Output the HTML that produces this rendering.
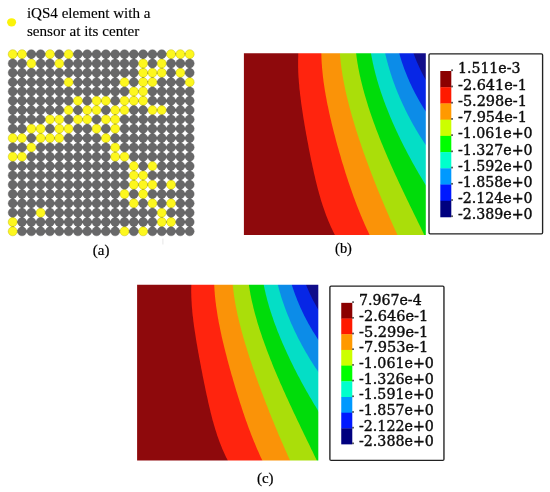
<!DOCTYPE html>
<html><head><meta charset="utf-8"><title>Figure</title>
<style>
html,body{margin:0;padding:0;background:#fff;}
svg{display:block}
.t{font-family:"Liberation Serif","DejaVu Serif",serif;fill:#000;stroke:#000;stroke-width:0.12px}
.lg text{font-family:'DejaVu Serif', 'Liberation Serif', serif;font-size:14.6px;fill:#0c0c0c;stroke:#0c0c0c;stroke-width:0.4px}
</style></head><body>
<svg width="550" height="492" viewBox="0 0 550 492">
<rect width="550" height="492" fill="#fff"/>
<ellipse cx="11.6" cy="22.3" rx="4.5" ry="4.15" fill="#FBF30A"/>
<text class="t" x="26.9" y="18.2" font-size="14.6" textLength="123.6" lengthAdjust="spacingAndGlyphs">iQS4 element with a</text>
<text class="t" x="26.9" y="36.3" font-size="14.6" textLength="112.4" lengthAdjust="spacingAndGlyphs">sensor at its center</text>
<path d="M12.70,54.15 H189.70 M12.70,54.15 V231.35 M12.70,63.48 H189.70 M22.02,54.15 V231.35 M12.70,72.80 H189.70 M31.33,54.15 V231.35 M12.70,82.13 H189.70 M40.65,54.15 V231.35 M12.70,91.46 H189.70 M49.96,54.15 V231.35 M12.70,100.78 H189.70 M59.28,54.15 V231.35 M12.70,110.11 H189.70 M68.59,54.15 V231.35 M12.70,119.43 H189.70 M77.91,54.15 V231.35 M12.70,128.76 H189.70 M87.23,54.15 V231.35 M12.70,138.09 H189.70 M96.54,54.15 V231.35 M12.70,147.41 H189.70 M105.86,54.15 V231.35 M12.70,156.74 H189.70 M115.17,54.15 V231.35 M12.70,166.07 H189.70 M124.49,54.15 V231.35 M12.70,175.39 H189.70 M133.81,54.15 V231.35 M12.70,184.72 H189.70 M143.12,54.15 V231.35 M12.70,194.04 H189.70 M152.44,54.15 V231.35 M12.70,203.37 H189.70 M161.75,54.15 V231.35 M12.70,212.70 H189.70 M171.07,54.15 V231.35 M12.70,222.02 H189.70 M180.38,54.15 V231.35 M12.70,231.35 H189.70 M189.70,54.15 V231.35" stroke="#666667" stroke-width="2.2" fill="none"/>
<g fill="#686869" stroke="#5f5f60" stroke-width="0.4"><circle cx="31.33" cy="54.15" r="4.5"/><circle cx="40.65" cy="54.15" r="4.5"/><circle cx="59.28" cy="54.15" r="4.5"/><circle cx="77.91" cy="54.15" r="4.5"/><circle cx="87.23" cy="54.15" r="4.5"/><circle cx="96.54" cy="54.15" r="4.5"/><circle cx="105.86" cy="54.15" r="4.5"/><circle cx="115.17" cy="54.15" r="4.5"/><circle cx="124.49" cy="54.15" r="4.5"/><circle cx="133.81" cy="54.15" r="4.5"/><circle cx="143.12" cy="54.15" r="4.5"/><circle cx="152.44" cy="54.15" r="4.5"/><circle cx="161.75" cy="54.15" r="4.5"/><circle cx="12.70" cy="63.48" r="4.5"/><circle cx="22.02" cy="63.48" r="4.5"/><circle cx="40.65" cy="63.48" r="4.5"/><circle cx="49.96" cy="63.48" r="4.5"/><circle cx="68.59" cy="63.48" r="4.5"/><circle cx="77.91" cy="63.48" r="4.5"/><circle cx="87.23" cy="63.48" r="4.5"/><circle cx="96.54" cy="63.48" r="4.5"/><circle cx="105.86" cy="63.48" r="4.5"/><circle cx="115.17" cy="63.48" r="4.5"/><circle cx="124.49" cy="63.48" r="4.5"/><circle cx="133.81" cy="63.48" r="4.5"/><circle cx="152.44" cy="63.48" r="4.5"/><circle cx="171.07" cy="63.48" r="4.5"/><circle cx="180.38" cy="63.48" r="4.5"/><circle cx="189.70" cy="63.48" r="4.5"/><circle cx="12.70" cy="72.80" r="4.5"/><circle cx="22.02" cy="72.80" r="4.5"/><circle cx="31.33" cy="72.80" r="4.5"/><circle cx="40.65" cy="72.80" r="4.5"/><circle cx="49.96" cy="72.80" r="4.5"/><circle cx="59.28" cy="72.80" r="4.5"/><circle cx="68.59" cy="72.80" r="4.5"/><circle cx="77.91" cy="72.80" r="4.5"/><circle cx="87.23" cy="72.80" r="4.5"/><circle cx="96.54" cy="72.80" r="4.5"/><circle cx="105.86" cy="72.80" r="4.5"/><circle cx="115.17" cy="72.80" r="4.5"/><circle cx="124.49" cy="72.80" r="4.5"/><circle cx="133.81" cy="72.80" r="4.5"/><circle cx="171.07" cy="72.80" r="4.5"/><circle cx="189.70" cy="72.80" r="4.5"/><circle cx="12.70" cy="82.13" r="4.5"/><circle cx="22.02" cy="82.13" r="4.5"/><circle cx="31.33" cy="82.13" r="4.5"/><circle cx="40.65" cy="82.13" r="4.5"/><circle cx="49.96" cy="82.13" r="4.5"/><circle cx="59.28" cy="82.13" r="4.5"/><circle cx="77.91" cy="82.13" r="4.5"/><circle cx="87.23" cy="82.13" r="4.5"/><circle cx="96.54" cy="82.13" r="4.5"/><circle cx="105.86" cy="82.13" r="4.5"/><circle cx="115.17" cy="82.13" r="4.5"/><circle cx="133.81" cy="82.13" r="4.5"/><circle cx="161.75" cy="82.13" r="4.5"/><circle cx="171.07" cy="82.13" r="4.5"/><circle cx="180.38" cy="82.13" r="4.5"/><circle cx="12.70" cy="91.46" r="4.5"/><circle cx="22.02" cy="91.46" r="4.5"/><circle cx="31.33" cy="91.46" r="4.5"/><circle cx="40.65" cy="91.46" r="4.5"/><circle cx="49.96" cy="91.46" r="4.5"/><circle cx="59.28" cy="91.46" r="4.5"/><circle cx="68.59" cy="91.46" r="4.5"/><circle cx="77.91" cy="91.46" r="4.5"/><circle cx="87.23" cy="91.46" r="4.5"/><circle cx="96.54" cy="91.46" r="4.5"/><circle cx="105.86" cy="91.46" r="4.5"/><circle cx="115.17" cy="91.46" r="4.5"/><circle cx="124.49" cy="91.46" r="4.5"/><circle cx="152.44" cy="91.46" r="4.5"/><circle cx="161.75" cy="91.46" r="4.5"/><circle cx="171.07" cy="91.46" r="4.5"/><circle cx="180.38" cy="91.46" r="4.5"/><circle cx="189.70" cy="91.46" r="4.5"/><circle cx="12.70" cy="100.78" r="4.5"/><circle cx="22.02" cy="100.78" r="4.5"/><circle cx="31.33" cy="100.78" r="4.5"/><circle cx="40.65" cy="100.78" r="4.5"/><circle cx="49.96" cy="100.78" r="4.5"/><circle cx="59.28" cy="100.78" r="4.5"/><circle cx="68.59" cy="100.78" r="4.5"/><circle cx="87.23" cy="100.78" r="4.5"/><circle cx="115.17" cy="100.78" r="4.5"/><circle cx="152.44" cy="100.78" r="4.5"/><circle cx="161.75" cy="100.78" r="4.5"/><circle cx="171.07" cy="100.78" r="4.5"/><circle cx="180.38" cy="100.78" r="4.5"/><circle cx="189.70" cy="100.78" r="4.5"/><circle cx="12.70" cy="110.11" r="4.5"/><circle cx="22.02" cy="110.11" r="4.5"/><circle cx="31.33" cy="110.11" r="4.5"/><circle cx="40.65" cy="110.11" r="4.5"/><circle cx="49.96" cy="110.11" r="4.5"/><circle cx="59.28" cy="110.11" r="4.5"/><circle cx="77.91" cy="110.11" r="4.5"/><circle cx="105.86" cy="110.11" r="4.5"/><circle cx="133.81" cy="110.11" r="4.5"/><circle cx="143.12" cy="110.11" r="4.5"/><circle cx="171.07" cy="110.11" r="4.5"/><circle cx="180.38" cy="110.11" r="4.5"/><circle cx="189.70" cy="110.11" r="4.5"/><circle cx="12.70" cy="119.43" r="4.5"/><circle cx="22.02" cy="119.43" r="4.5"/><circle cx="31.33" cy="119.43" r="4.5"/><circle cx="40.65" cy="119.43" r="4.5"/><circle cx="68.59" cy="119.43" r="4.5"/><circle cx="96.54" cy="119.43" r="4.5"/><circle cx="124.49" cy="119.43" r="4.5"/><circle cx="133.81" cy="119.43" r="4.5"/><circle cx="143.12" cy="119.43" r="4.5"/><circle cx="152.44" cy="119.43" r="4.5"/><circle cx="161.75" cy="119.43" r="4.5"/><circle cx="171.07" cy="119.43" r="4.5"/><circle cx="180.38" cy="119.43" r="4.5"/><circle cx="189.70" cy="119.43" r="4.5"/><circle cx="12.70" cy="128.76" r="4.5"/><circle cx="22.02" cy="128.76" r="4.5"/><circle cx="49.96" cy="128.76" r="4.5"/><circle cx="77.91" cy="128.76" r="4.5"/><circle cx="87.23" cy="128.76" r="4.5"/><circle cx="105.86" cy="128.76" r="4.5"/><circle cx="124.49" cy="128.76" r="4.5"/><circle cx="133.81" cy="128.76" r="4.5"/><circle cx="143.12" cy="128.76" r="4.5"/><circle cx="152.44" cy="128.76" r="4.5"/><circle cx="161.75" cy="128.76" r="4.5"/><circle cx="171.07" cy="128.76" r="4.5"/><circle cx="180.38" cy="128.76" r="4.5"/><circle cx="189.70" cy="128.76" r="4.5"/><circle cx="31.33" cy="138.09" r="4.5"/><circle cx="68.59" cy="138.09" r="4.5"/><circle cx="77.91" cy="138.09" r="4.5"/><circle cx="87.23" cy="138.09" r="4.5"/><circle cx="96.54" cy="138.09" r="4.5"/><circle cx="115.17" cy="138.09" r="4.5"/><circle cx="124.49" cy="138.09" r="4.5"/><circle cx="133.81" cy="138.09" r="4.5"/><circle cx="143.12" cy="138.09" r="4.5"/><circle cx="152.44" cy="138.09" r="4.5"/><circle cx="161.75" cy="138.09" r="4.5"/><circle cx="171.07" cy="138.09" r="4.5"/><circle cx="180.38" cy="138.09" r="4.5"/><circle cx="189.70" cy="138.09" r="4.5"/><circle cx="12.70" cy="147.41" r="4.5"/><circle cx="22.02" cy="147.41" r="4.5"/><circle cx="40.65" cy="147.41" r="4.5"/><circle cx="49.96" cy="147.41" r="4.5"/><circle cx="59.28" cy="147.41" r="4.5"/><circle cx="68.59" cy="147.41" r="4.5"/><circle cx="77.91" cy="147.41" r="4.5"/><circle cx="87.23" cy="147.41" r="4.5"/><circle cx="96.54" cy="147.41" r="4.5"/><circle cx="105.86" cy="147.41" r="4.5"/><circle cx="124.49" cy="147.41" r="4.5"/><circle cx="133.81" cy="147.41" r="4.5"/><circle cx="143.12" cy="147.41" r="4.5"/><circle cx="152.44" cy="147.41" r="4.5"/><circle cx="161.75" cy="147.41" r="4.5"/><circle cx="171.07" cy="147.41" r="4.5"/><circle cx="180.38" cy="147.41" r="4.5"/><circle cx="189.70" cy="147.41" r="4.5"/><circle cx="31.33" cy="156.74" r="4.5"/><circle cx="40.65" cy="156.74" r="4.5"/><circle cx="49.96" cy="156.74" r="4.5"/><circle cx="59.28" cy="156.74" r="4.5"/><circle cx="68.59" cy="156.74" r="4.5"/><circle cx="77.91" cy="156.74" r="4.5"/><circle cx="87.23" cy="156.74" r="4.5"/><circle cx="96.54" cy="156.74" r="4.5"/><circle cx="105.86" cy="156.74" r="4.5"/><circle cx="133.81" cy="156.74" r="4.5"/><circle cx="143.12" cy="156.74" r="4.5"/><circle cx="152.44" cy="156.74" r="4.5"/><circle cx="161.75" cy="156.74" r="4.5"/><circle cx="171.07" cy="156.74" r="4.5"/><circle cx="180.38" cy="156.74" r="4.5"/><circle cx="189.70" cy="156.74" r="4.5"/><circle cx="12.70" cy="166.07" r="4.5"/><circle cx="22.02" cy="166.07" r="4.5"/><circle cx="31.33" cy="166.07" r="4.5"/><circle cx="40.65" cy="166.07" r="4.5"/><circle cx="49.96" cy="166.07" r="4.5"/><circle cx="59.28" cy="166.07" r="4.5"/><circle cx="68.59" cy="166.07" r="4.5"/><circle cx="77.91" cy="166.07" r="4.5"/><circle cx="87.23" cy="166.07" r="4.5"/><circle cx="96.54" cy="166.07" r="4.5"/><circle cx="105.86" cy="166.07" r="4.5"/><circle cx="115.17" cy="166.07" r="4.5"/><circle cx="124.49" cy="166.07" r="4.5"/><circle cx="143.12" cy="166.07" r="4.5"/><circle cx="161.75" cy="166.07" r="4.5"/><circle cx="171.07" cy="166.07" r="4.5"/><circle cx="180.38" cy="166.07" r="4.5"/><circle cx="189.70" cy="166.07" r="4.5"/><circle cx="12.70" cy="175.39" r="4.5"/><circle cx="22.02" cy="175.39" r="4.5"/><circle cx="31.33" cy="175.39" r="4.5"/><circle cx="40.65" cy="175.39" r="4.5"/><circle cx="49.96" cy="175.39" r="4.5"/><circle cx="59.28" cy="175.39" r="4.5"/><circle cx="68.59" cy="175.39" r="4.5"/><circle cx="77.91" cy="175.39" r="4.5"/><circle cx="87.23" cy="175.39" r="4.5"/><circle cx="96.54" cy="175.39" r="4.5"/><circle cx="105.86" cy="175.39" r="4.5"/><circle cx="115.17" cy="175.39" r="4.5"/><circle cx="124.49" cy="175.39" r="4.5"/><circle cx="152.44" cy="175.39" r="4.5"/><circle cx="161.75" cy="175.39" r="4.5"/><circle cx="171.07" cy="175.39" r="4.5"/><circle cx="180.38" cy="175.39" r="4.5"/><circle cx="189.70" cy="175.39" r="4.5"/><circle cx="12.70" cy="184.72" r="4.5"/><circle cx="22.02" cy="184.72" r="4.5"/><circle cx="31.33" cy="184.72" r="4.5"/><circle cx="40.65" cy="184.72" r="4.5"/><circle cx="49.96" cy="184.72" r="4.5"/><circle cx="59.28" cy="184.72" r="4.5"/><circle cx="68.59" cy="184.72" r="4.5"/><circle cx="77.91" cy="184.72" r="4.5"/><circle cx="87.23" cy="184.72" r="4.5"/><circle cx="96.54" cy="184.72" r="4.5"/><circle cx="105.86" cy="184.72" r="4.5"/><circle cx="115.17" cy="184.72" r="4.5"/><circle cx="124.49" cy="184.72" r="4.5"/><circle cx="161.75" cy="184.72" r="4.5"/><circle cx="180.38" cy="184.72" r="4.5"/><circle cx="189.70" cy="184.72" r="4.5"/><circle cx="12.70" cy="194.04" r="4.5"/><circle cx="22.02" cy="194.04" r="4.5"/><circle cx="31.33" cy="194.04" r="4.5"/><circle cx="40.65" cy="194.04" r="4.5"/><circle cx="49.96" cy="194.04" r="4.5"/><circle cx="59.28" cy="194.04" r="4.5"/><circle cx="68.59" cy="194.04" r="4.5"/><circle cx="77.91" cy="194.04" r="4.5"/><circle cx="87.23" cy="194.04" r="4.5"/><circle cx="96.54" cy="194.04" r="4.5"/><circle cx="105.86" cy="194.04" r="4.5"/><circle cx="115.17" cy="194.04" r="4.5"/><circle cx="133.81" cy="194.04" r="4.5"/><circle cx="152.44" cy="194.04" r="4.5"/><circle cx="161.75" cy="194.04" r="4.5"/><circle cx="171.07" cy="194.04" r="4.5"/><circle cx="180.38" cy="194.04" r="4.5"/><circle cx="189.70" cy="194.04" r="4.5"/><circle cx="12.70" cy="203.37" r="4.5"/><circle cx="22.02" cy="203.37" r="4.5"/><circle cx="31.33" cy="203.37" r="4.5"/><circle cx="40.65" cy="203.37" r="4.5"/><circle cx="49.96" cy="203.37" r="4.5"/><circle cx="59.28" cy="203.37" r="4.5"/><circle cx="68.59" cy="203.37" r="4.5"/><circle cx="77.91" cy="203.37" r="4.5"/><circle cx="87.23" cy="203.37" r="4.5"/><circle cx="96.54" cy="203.37" r="4.5"/><circle cx="105.86" cy="203.37" r="4.5"/><circle cx="115.17" cy="203.37" r="4.5"/><circle cx="124.49" cy="203.37" r="4.5"/><circle cx="143.12" cy="203.37" r="4.5"/><circle cx="161.75" cy="203.37" r="4.5"/><circle cx="180.38" cy="203.37" r="4.5"/><circle cx="189.70" cy="203.37" r="4.5"/><circle cx="12.70" cy="212.70" r="4.5"/><circle cx="22.02" cy="212.70" r="4.5"/><circle cx="31.33" cy="212.70" r="4.5"/><circle cx="49.96" cy="212.70" r="4.5"/><circle cx="59.28" cy="212.70" r="4.5"/><circle cx="68.59" cy="212.70" r="4.5"/><circle cx="77.91" cy="212.70" r="4.5"/><circle cx="87.23" cy="212.70" r="4.5"/><circle cx="96.54" cy="212.70" r="4.5"/><circle cx="105.86" cy="212.70" r="4.5"/><circle cx="115.17" cy="212.70" r="4.5"/><circle cx="124.49" cy="212.70" r="4.5"/><circle cx="133.81" cy="212.70" r="4.5"/><circle cx="143.12" cy="212.70" r="4.5"/><circle cx="152.44" cy="212.70" r="4.5"/><circle cx="171.07" cy="212.70" r="4.5"/><circle cx="180.38" cy="212.70" r="4.5"/><circle cx="189.70" cy="212.70" r="4.5"/><circle cx="22.02" cy="222.02" r="4.5"/><circle cx="31.33" cy="222.02" r="4.5"/><circle cx="40.65" cy="222.02" r="4.5"/><circle cx="49.96" cy="222.02" r="4.5"/><circle cx="59.28" cy="222.02" r="4.5"/><circle cx="68.59" cy="222.02" r="4.5"/><circle cx="77.91" cy="222.02" r="4.5"/><circle cx="87.23" cy="222.02" r="4.5"/><circle cx="96.54" cy="222.02" r="4.5"/><circle cx="105.86" cy="222.02" r="4.5"/><circle cx="115.17" cy="222.02" r="4.5"/><circle cx="124.49" cy="222.02" r="4.5"/><circle cx="133.81" cy="222.02" r="4.5"/><circle cx="143.12" cy="222.02" r="4.5"/><circle cx="152.44" cy="222.02" r="4.5"/><circle cx="180.38" cy="222.02" r="4.5"/><circle cx="189.70" cy="222.02" r="4.5"/><circle cx="22.02" cy="231.35" r="4.5"/><circle cx="31.33" cy="231.35" r="4.5"/><circle cx="40.65" cy="231.35" r="4.5"/><circle cx="49.96" cy="231.35" r="4.5"/><circle cx="59.28" cy="231.35" r="4.5"/><circle cx="68.59" cy="231.35" r="4.5"/><circle cx="77.91" cy="231.35" r="4.5"/><circle cx="87.23" cy="231.35" r="4.5"/><circle cx="96.54" cy="231.35" r="4.5"/><circle cx="105.86" cy="231.35" r="4.5"/><circle cx="115.17" cy="231.35" r="4.5"/><circle cx="133.81" cy="231.35" r="4.5"/><circle cx="152.44" cy="231.35" r="4.5"/><circle cx="161.75" cy="231.35" r="4.5"/><circle cx="171.07" cy="231.35" r="4.5"/><circle cx="180.38" cy="231.35" r="4.5"/><circle cx="189.70" cy="231.35" r="4.5"/></g>
<g fill="#FDF71E" stroke="#b9b000" stroke-width="0.4"><circle cx="12.70" cy="54.15" r="4.5"/><circle cx="22.02" cy="54.15" r="4.5"/><circle cx="49.96" cy="54.15" r="4.5"/><circle cx="68.59" cy="54.15" r="4.5"/><circle cx="171.07" cy="54.15" r="4.5"/><circle cx="180.38" cy="54.15" r="4.5"/><circle cx="189.70" cy="54.15" r="4.5"/><circle cx="31.33" cy="63.48" r="4.5"/><circle cx="59.28" cy="63.48" r="4.5"/><circle cx="143.12" cy="63.48" r="4.5"/><circle cx="161.75" cy="63.48" r="4.5"/><circle cx="143.12" cy="72.80" r="4.5"/><circle cx="152.44" cy="72.80" r="4.5"/><circle cx="161.75" cy="72.80" r="4.5"/><circle cx="180.38" cy="72.80" r="4.5"/><circle cx="68.59" cy="82.13" r="4.5"/><circle cx="124.49" cy="82.13" r="4.5"/><circle cx="143.12" cy="82.13" r="4.5"/><circle cx="152.44" cy="82.13" r="4.5"/><circle cx="189.70" cy="82.13" r="4.5"/><circle cx="133.81" cy="91.46" r="4.5"/><circle cx="143.12" cy="91.46" r="4.5"/><circle cx="77.91" cy="100.78" r="4.5"/><circle cx="96.54" cy="100.78" r="4.5"/><circle cx="105.86" cy="100.78" r="4.5"/><circle cx="124.49" cy="100.78" r="4.5"/><circle cx="133.81" cy="100.78" r="4.5"/><circle cx="143.12" cy="100.78" r="4.5"/><circle cx="68.59" cy="110.11" r="4.5"/><circle cx="87.23" cy="110.11" r="4.5"/><circle cx="96.54" cy="110.11" r="4.5"/><circle cx="115.17" cy="110.11" r="4.5"/><circle cx="124.49" cy="110.11" r="4.5"/><circle cx="152.44" cy="110.11" r="4.5"/><circle cx="161.75" cy="110.11" r="4.5"/><circle cx="49.96" cy="119.43" r="4.5"/><circle cx="59.28" cy="119.43" r="4.5"/><circle cx="77.91" cy="119.43" r="4.5"/><circle cx="87.23" cy="119.43" r="4.5"/><circle cx="105.86" cy="119.43" r="4.5"/><circle cx="115.17" cy="119.43" r="4.5"/><circle cx="31.33" cy="128.76" r="4.5"/><circle cx="40.65" cy="128.76" r="4.5"/><circle cx="59.28" cy="128.76" r="4.5"/><circle cx="68.59" cy="128.76" r="4.5"/><circle cx="96.54" cy="128.76" r="4.5"/><circle cx="115.17" cy="128.76" r="4.5"/><circle cx="12.70" cy="138.09" r="4.5"/><circle cx="22.02" cy="138.09" r="4.5"/><circle cx="40.65" cy="138.09" r="4.5"/><circle cx="49.96" cy="138.09" r="4.5"/><circle cx="59.28" cy="138.09" r="4.5"/><circle cx="105.86" cy="138.09" r="4.5"/><circle cx="31.33" cy="147.41" r="4.5"/><circle cx="115.17" cy="147.41" r="4.5"/><circle cx="12.70" cy="156.74" r="4.5"/><circle cx="22.02" cy="156.74" r="4.5"/><circle cx="115.17" cy="156.74" r="4.5"/><circle cx="124.49" cy="156.74" r="4.5"/><circle cx="133.81" cy="166.07" r="4.5"/><circle cx="152.44" cy="166.07" r="4.5"/><circle cx="133.81" cy="175.39" r="4.5"/><circle cx="143.12" cy="175.39" r="4.5"/><circle cx="133.81" cy="184.72" r="4.5"/><circle cx="143.12" cy="184.72" r="4.5"/><circle cx="152.44" cy="184.72" r="4.5"/><circle cx="171.07" cy="184.72" r="4.5"/><circle cx="124.49" cy="194.04" r="4.5"/><circle cx="143.12" cy="194.04" r="4.5"/><circle cx="133.81" cy="203.37" r="4.5"/><circle cx="152.44" cy="203.37" r="4.5"/><circle cx="171.07" cy="203.37" r="4.5"/><circle cx="40.65" cy="212.70" r="4.5"/><circle cx="161.75" cy="212.70" r="4.5"/><circle cx="12.70" cy="222.02" r="4.5"/><circle cx="161.75" cy="222.02" r="4.5"/><circle cx="171.07" cy="222.02" r="4.5"/><circle cx="12.70" cy="231.35" r="4.5"/><circle cx="124.49" cy="231.35" r="4.5"/><circle cx="143.12" cy="231.35" r="4.5"/></g>
<rect x="162.4" y="238.5" width="1" height="6" fill="#e6e6e6"/>
<text class="t" x="101.1" y="254.9" font-size="13.8" text-anchor="middle" textLength="16.6" lengthAdjust="spacingAndGlyphs" style="stroke-width:0.2px">(a)</text>
<text class="t" x="343.5" y="253.3" font-size="13.8" text-anchor="middle" textLength="16.8" lengthAdjust="spacingAndGlyphs" style="stroke-width:0.2px">(b)</text>
<text class="t" x="265.3" y="482.8" font-size="13.8" text-anchor="middle" textLength="16.6" lengthAdjust="spacingAndGlyphs" style="stroke-width:0.2px">(c)</text>
<g transform="translate(243.9,53.3)">
<g>
<rect x="-2.0" y="-2.0" width="185.9" height="185.6" fill="#110D8A"/>
<path d="M-2.0,-2.0 L169.6,-2.0 L169.6,0.0 L170.4,2.0 L171.1,4.0 L171.9,6.0 L172.7,8.0 L173.6,10.0 L174.5,12.0 L175.4,14.0 L176.3,16.0 L177.3,18.0 L178.3,20.0 L179.3,22.0 L180.4,24.0 L181.6,26.0 L182.7,28.0 L183.9,30.0 L183.9,32.0 L183.9,34.0 L183.9,36.0 L183.9,38.0 L183.9,40.0 L183.9,42.0 L183.9,44.0 L183.9,46.0 L183.9,48.0 L183.9,50.0 L183.9,52.0 L183.9,54.0 L183.9,56.0 L183.9,58.0 L183.9,60.0 L183.9,62.0 L183.9,64.0 L183.9,66.0 L183.9,68.0 L183.9,70.0 L183.9,72.0 L183.9,74.0 L183.9,76.0 L183.9,78.0 L183.9,80.0 L183.9,82.0 L183.9,84.0 L183.9,86.0 L183.9,88.0 L183.9,90.0 L183.9,92.0 L183.9,94.0 L183.9,96.0 L183.9,98.0 L183.9,100.0 L183.9,102.0 L183.9,104.0 L183.9,106.0 L183.9,108.0 L183.9,110.0 L183.9,112.0 L183.9,114.0 L183.9,116.0 L183.9,118.0 L183.9,120.0 L183.9,122.0 L183.9,124.0 L183.9,126.0 L183.9,128.0 L183.9,130.0 L183.9,132.0 L183.9,134.0 L183.9,136.0 L183.9,138.0 L183.9,140.0 L183.9,142.0 L183.9,144.0 L183.9,146.0 L183.9,148.0 L183.9,150.0 L183.9,152.0 L183.9,154.0 L183.9,156.0 L183.9,158.0 L183.9,160.0 L183.9,162.0 L183.9,164.0 L183.9,166.0 L183.9,168.0 L183.9,170.0 L183.9,172.0 L183.9,174.0 L183.9,176.0 L183.9,178.0 L183.9,180.0 L183.9,181.6 L183.9,183.6 L-2.0,183.6 Z" fill="#0726E6"/>
<path d="M-2.0,-2.0 L155.3,-2.0 L155.3,0.0 L155.9,2.0 L156.5,4.0 L157.1,6.0 L157.7,8.0 L158.4,10.0 L159.1,12.0 L159.8,14.0 L160.5,16.0 L161.3,18.0 L162.1,20.0 L162.9,22.0 L163.7,24.0 L164.6,26.0 L165.4,28.0 L166.3,30.0 L167.3,32.0 L168.2,34.0 L169.2,36.0 L170.2,38.0 L171.2,40.0 L172.3,42.0 L173.4,44.0 L174.5,46.0 L175.6,48.0 L176.8,50.0 L178.0,52.0 L179.2,54.0 L180.5,56.0 L181.8,58.0 L183.2,60.0 L183.9,62.0 L183.9,64.0 L183.9,66.0 L183.9,68.0 L183.9,70.0 L183.9,72.0 L183.9,74.0 L183.9,76.0 L183.9,78.0 L183.9,80.0 L183.9,82.0 L183.9,84.0 L183.9,86.0 L183.9,88.0 L183.9,90.0 L183.9,92.0 L183.9,94.0 L183.9,96.0 L183.9,98.0 L183.9,100.0 L183.9,102.0 L183.9,104.0 L183.9,106.0 L183.9,108.0 L183.9,110.0 L183.9,112.0 L183.9,114.0 L183.9,116.0 L183.9,118.0 L183.9,120.0 L183.9,122.0 L183.9,124.0 L183.9,126.0 L183.9,128.0 L183.9,130.0 L183.9,132.0 L183.9,134.0 L183.9,136.0 L183.9,138.0 L183.9,140.0 L183.9,142.0 L183.9,144.0 L183.9,146.0 L183.9,148.0 L183.9,150.0 L183.9,152.0 L183.9,154.0 L183.9,156.0 L183.9,158.0 L183.9,160.0 L183.9,162.0 L183.9,164.0 L183.9,166.0 L183.9,168.0 L183.9,170.0 L183.9,172.0 L183.9,174.0 L183.9,176.0 L183.9,178.0 L183.9,180.0 L183.9,181.6 L183.9,183.6 L-2.0,183.6 Z" fill="#0C8CE8"/>
<path d="M-2.0,-2.0 L141.3,-2.0 L141.3,0.0 L141.7,2.0 L142.2,4.0 L142.7,6.0 L143.2,8.0 L143.8,10.0 L144.3,12.0 L144.9,14.0 L145.5,16.0 L146.1,18.0 L146.7,20.0 L147.4,22.0 L148.0,24.0 L148.7,26.0 L149.4,28.0 L150.1,30.0 L150.9,32.0 L151.6,34.0 L152.4,36.0 L153.2,38.0 L154.0,40.0 L154.9,42.0 L155.7,44.0 L156.6,46.0 L157.5,48.0 L158.4,50.0 L159.3,52.0 L160.3,54.0 L161.2,56.0 L162.2,58.0 L163.2,60.0 L164.2,62.0 L165.3,64.0 L166.3,66.0 L167.4,68.0 L168.5,70.0 L169.6,72.0 L170.8,74.0 L171.9,76.0 L173.1,78.0 L174.3,80.0 L175.5,82.0 L176.8,84.0 L178.1,86.0 L179.4,88.0 L180.7,90.0 L182.1,92.0 L183.5,94.0 L183.9,96.0 L183.9,98.0 L183.9,100.0 L183.9,102.0 L183.9,104.0 L183.9,106.0 L183.9,108.0 L183.9,110.0 L183.9,112.0 L183.9,114.0 L183.9,116.0 L183.9,118.0 L183.9,120.0 L183.9,122.0 L183.9,124.0 L183.9,126.0 L183.9,128.0 L183.9,130.0 L183.9,132.0 L183.9,134.0 L183.9,136.0 L183.9,138.0 L183.9,140.0 L183.9,142.0 L183.9,144.0 L183.9,146.0 L183.9,148.0 L183.9,150.0 L183.9,152.0 L183.9,154.0 L183.9,156.0 L183.9,158.0 L183.9,160.0 L183.9,162.0 L183.9,164.0 L183.9,166.0 L183.9,168.0 L183.9,170.0 L183.9,172.0 L183.9,174.0 L183.9,176.0 L183.9,178.0 L183.9,180.0 L183.9,181.6 L183.9,183.6 L-2.0,183.6 Z" fill="#04DEC6"/>
<path d="M-2.0,-2.0 L127.1,-2.0 L127.1,0.0 L127.4,2.0 L127.8,4.0 L128.2,6.0 L128.6,8.0 L129.0,10.0 L129.5,12.0 L129.9,14.0 L130.4,16.0 L130.9,18.0 L131.4,20.0 L131.9,22.0 L132.5,24.0 L133.0,26.0 L133.6,28.0 L134.2,30.0 L134.8,32.0 L135.4,34.0 L136.1,36.0 L136.7,38.0 L137.4,40.0 L138.1,42.0 L138.8,44.0 L139.5,46.0 L140.2,48.0 L141.0,50.0 L141.7,52.0 L142.5,54.0 L143.3,56.0 L144.1,58.0 L144.9,60.0 L145.7,62.0 L146.5,64.0 L147.4,66.0 L148.2,68.0 L149.1,70.0 L150.0,72.0 L150.9,74.0 L151.8,76.0 L152.7,78.0 L153.7,80.0 L154.6,82.0 L155.6,84.0 L156.5,86.0 L157.5,88.0 L158.5,90.0 L159.5,92.0 L160.5,94.0 L161.6,96.0 L162.6,98.0 L163.6,100.0 L164.7,102.0 L165.8,104.0 L166.9,106.0 L167.9,108.0 L169.0,110.0 L170.2,112.0 L171.3,114.0 L172.4,116.0 L173.6,118.0 L174.7,120.0 L175.9,122.0 L177.1,124.0 L178.3,126.0 L179.5,128.0 L180.7,130.0 L181.9,132.0 L183.1,134.0 L183.9,136.0 L183.9,138.0 L183.9,140.0 L183.9,142.0 L183.9,144.0 L183.9,146.0 L183.9,148.0 L183.9,150.0 L183.9,152.0 L183.9,154.0 L183.9,156.0 L183.9,158.0 L183.9,160.0 L183.9,162.0 L183.9,164.0 L183.9,166.0 L183.9,168.0 L183.9,170.0 L183.9,172.0 L183.9,174.0 L183.9,176.0 L183.9,178.0 L183.9,180.0 L183.9,181.6 L183.9,183.6 L-2.0,183.6 Z" fill="#00DC0A"/>
<path d="M-2.0,-2.0 L112.2,-2.0 L112.2,0.0 L112.5,2.0 L112.7,4.0 L113.0,6.0 L113.3,8.0 L113.6,10.0 L114.0,12.0 L114.3,14.0 L114.7,16.0 L115.1,18.0 L115.5,20.0 L115.9,22.0 L116.4,24.0 L116.8,26.0 L117.3,28.0 L117.8,30.0 L118.3,32.0 L118.8,34.0 L119.3,36.0 L119.9,38.0 L120.4,40.0 L121.0,42.0 L121.6,44.0 L122.2,46.0 L122.8,48.0 L123.4,50.0 L124.0,52.0 L124.6,54.0 L125.3,56.0 L125.9,58.0 L126.6,60.0 L127.3,62.0 L128.0,64.0 L128.7,66.0 L129.4,68.0 L130.1,70.0 L130.9,72.0 L131.6,74.0 L132.3,76.0 L133.1,78.0 L133.9,80.0 L134.7,82.0 L135.4,84.0 L136.2,86.0 L137.0,88.0 L137.8,90.0 L138.7,92.0 L139.5,94.0 L140.3,96.0 L141.2,98.0 L142.0,100.0 L142.9,102.0 L143.7,104.0 L144.6,106.0 L145.5,108.0 L146.3,110.0 L147.2,112.0 L148.1,114.0 L149.0,116.0 L149.9,118.0 L150.8,120.0 L151.7,122.0 L152.7,124.0 L153.6,126.0 L154.5,128.0 L155.4,130.0 L156.4,132.0 L157.3,134.0 L158.3,136.0 L159.2,138.0 L160.2,140.0 L161.1,142.0 L162.1,144.0 L163.0,146.0 L164.0,148.0 L165.0,150.0 L165.9,152.0 L166.9,154.0 L167.9,156.0 L168.9,158.0 L169.8,160.0 L170.8,162.0 L171.8,164.0 L172.8,166.0 L173.7,168.0 L174.7,170.0 L175.7,172.0 L176.7,174.0 L177.6,176.0 L178.6,178.0 L179.6,180.0 L180.4,181.6 L180.4,183.6 L-2.0,183.6 Z" fill="#AADE0A"/>
<path d="M-2.0,-2.0 L96.0,-2.0 L96.0,0.0 L96.1,2.0 L96.3,4.0 L96.5,6.0 L96.7,8.0 L96.9,10.0 L97.2,12.0 L97.4,14.0 L97.7,16.0 L98.0,18.0 L98.3,20.0 L98.6,22.0 L99.0,24.0 L99.3,26.0 L99.7,28.0 L100.1,30.0 L100.5,32.0 L100.9,34.0 L101.3,36.0 L101.7,38.0 L102.2,40.0 L102.6,42.0 L103.1,44.0 L103.6,46.0 L104.1,48.0 L104.6,50.0 L105.1,52.0 L105.6,54.0 L106.2,56.0 L106.7,58.0 L107.3,60.0 L107.8,62.0 L108.4,64.0 L109.0,66.0 L109.6,68.0 L110.2,70.0 L110.8,72.0 L111.4,74.0 L112.0,76.0 L112.6,78.0 L113.3,80.0 L113.9,82.0 L114.6,84.0 L115.2,86.0 L115.9,88.0 L116.6,90.0 L117.3,92.0 L117.9,94.0 L118.6,96.0 L119.3,98.0 L120.0,100.0 L120.8,102.0 L121.5,104.0 L122.2,106.0 L122.9,108.0 L123.7,110.0 L124.4,112.0 L125.2,114.0 L125.9,116.0 L126.7,118.0 L127.4,120.0 L128.2,122.0 L129.0,124.0 L129.7,126.0 L130.5,128.0 L131.3,130.0 L132.1,132.0 L132.9,134.0 L133.7,136.0 L134.5,138.0 L135.3,140.0 L136.2,142.0 L137.0,144.0 L137.8,146.0 L138.7,148.0 L139.5,150.0 L140.4,152.0 L141.2,154.0 L142.1,156.0 L142.9,158.0 L143.8,160.0 L144.7,162.0 L145.5,164.0 L146.4,166.0 L147.3,168.0 L148.2,170.0 L149.1,172.0 L150.0,174.0 L150.9,176.0 L151.9,178.0 L152.8,180.0 L153.5,181.6 L153.5,183.6 L-2.0,183.6 Z" fill="#FA9308"/>
<path d="M-2.0,-2.0 L77.4,-2.0 L77.4,0.0 L77.5,2.0 L77.5,4.0 L77.6,6.0 L77.7,8.0 L77.8,10.0 L78.0,12.0 L78.1,14.0 L78.3,16.0 L78.5,18.0 L78.7,20.0 L78.9,22.0 L79.1,24.0 L79.4,26.0 L79.6,28.0 L79.9,30.0 L80.2,32.0 L80.5,34.0 L80.8,36.0 L81.1,38.0 L81.5,40.0 L81.8,42.0 L82.2,44.0 L82.6,46.0 L82.9,48.0 L83.3,50.0 L83.7,52.0 L84.2,54.0 L84.6,56.0 L85.0,58.0 L85.4,60.0 L85.9,62.0 L86.3,64.0 L86.8,66.0 L87.3,68.0 L87.7,70.0 L88.2,72.0 L88.7,74.0 L89.2,76.0 L89.7,78.0 L90.2,80.0 L90.8,82.0 L91.3,84.0 L91.8,86.0 L92.3,88.0 L92.9,90.0 L93.4,92.0 L94.0,94.0 L94.6,96.0 L95.1,98.0 L95.7,100.0 L96.3,102.0 L96.9,104.0 L97.4,106.0 L98.0,108.0 L98.6,110.0 L99.3,112.0 L99.9,114.0 L100.5,116.0 L101.1,118.0 L101.7,120.0 L102.4,122.0 L103.0,124.0 L103.7,126.0 L104.3,128.0 L105.0,130.0 L105.7,132.0 L106.4,134.0 L107.1,136.0 L107.8,138.0 L108.5,140.0 L109.2,142.0 L109.9,144.0 L110.7,146.0 L111.4,148.0 L112.2,150.0 L112.9,152.0 L113.7,154.0 L114.5,156.0 L115.3,158.0 L116.1,160.0 L116.9,162.0 L117.8,164.0 L118.6,166.0 L119.5,168.0 L120.3,170.0 L121.2,172.0 L122.1,174.0 L123.0,176.0 L124.0,178.0 L124.9,180.0 L125.7,181.6 L125.7,183.6 L-2.0,183.6 Z" fill="#FF240E"/>
<path d="M-2.0,-2.0 L54.4,-2.0 L54.4,0.0 L54.3,2.0 L54.3,4.0 L54.2,6.0 L54.2,8.0 L54.2,10.0 L54.2,12.0 L54.2,14.0 L54.3,16.0 L54.3,18.0 L54.4,20.0 L54.5,22.0 L54.6,24.0 L54.8,26.0 L54.9,28.0 L55.1,30.0 L55.3,32.0 L55.4,34.0 L55.6,36.0 L55.9,38.0 L56.1,40.0 L56.3,42.0 L56.6,44.0 L56.8,46.0 L57.1,48.0 L57.3,50.0 L57.6,52.0 L57.9,54.0 L58.2,56.0 L58.5,58.0 L58.8,60.0 L59.1,62.0 L59.4,64.0 L59.7,66.0 L60.1,68.0 L60.4,70.0 L60.7,72.0 L61.1,74.0 L61.4,76.0 L61.8,78.0 L62.1,80.0 L62.5,82.0 L62.9,84.0 L63.2,86.0 L63.6,88.0 L64.0,90.0 L64.4,92.0 L64.7,94.0 L65.1,96.0 L65.5,98.0 L65.9,100.0 L66.3,102.0 L66.7,104.0 L67.1,106.0 L67.5,108.0 L68.0,110.0 L68.4,112.0 L68.8,114.0 L69.3,116.0 L69.7,118.0 L70.1,120.0 L70.6,122.0 L71.1,124.0 L71.5,126.0 L72.0,128.0 L72.5,130.0 L73.0,132.0 L73.5,134.0 L74.0,136.0 L74.6,138.0 L75.1,140.0 L75.7,142.0 L76.3,144.0 L76.8,146.0 L77.4,148.0 L78.1,150.0 L78.7,152.0 L79.4,154.0 L80.1,156.0 L80.8,158.0 L81.5,160.0 L82.2,162.0 L83.0,164.0 L83.8,166.0 L84.6,168.0 L85.5,170.0 L86.3,172.0 L87.2,174.0 L88.2,176.0 L89.1,178.0 L90.1,180.0 L91.0,181.6 L91.0,183.6 L-2.0,183.6 Z" fill="#8E090C"/>
<path fill="#fff" fill-rule="evenodd" d="M-3.0,-3.0 H184.9 V184.6 H-3.0 Z M0,0 V181.6 H181.9 V0 Z"/>
</g>
</g>
<g class="lg" transform="translate(429.0,53.8)">
<rect x="0" y="0" width="113.6" height="180.0" fill="#fff" stroke="#222" stroke-width="1.35" rx="1.2"/>
<rect x="11.3" y="17.20" width="11.0" height="16.52" fill="#8B0000"/>
<rect x="11.3" y="33.42" width="11.0" height="16.52" fill="#FF1A00"/>
<rect x="11.3" y="49.64" width="11.0" height="16.52" fill="#FF9900"/>
<rect x="11.3" y="65.86" width="11.0" height="16.52" fill="#CCFF00"/>
<rect x="11.3" y="82.08" width="11.0" height="16.52" fill="#00FF00"/>
<rect x="11.3" y="98.30" width="11.0" height="16.52" fill="#00FFCC"/>
<rect x="11.3" y="114.52" width="11.0" height="16.52" fill="#0099FF"/>
<rect x="11.3" y="130.74" width="11.0" height="16.52" fill="#0019FF"/>
<rect x="11.3" y="146.96" width="11.0" height="16.52" fill="#00007F"/>
<rect x="22.30" y="15.60" width="1.5" height="1.7" fill="#333"/>
<rect x="22.30" y="31.82" width="1.5" height="1.7" fill="#333"/>
<rect x="22.30" y="48.04" width="1.5" height="1.7" fill="#333"/>
<rect x="22.30" y="64.26" width="1.5" height="1.7" fill="#333"/>
<rect x="22.30" y="80.48" width="1.5" height="1.7" fill="#333"/>
<rect x="22.30" y="96.70" width="1.5" height="1.7" fill="#333"/>
<rect x="22.30" y="112.92" width="1.5" height="1.7" fill="#333"/>
<rect x="22.30" y="129.14" width="1.5" height="1.7" fill="#333"/>
<rect x="22.30" y="145.36" width="1.5" height="1.7" fill="#333"/>
<rect x="22.30" y="161.58" width="1.5" height="1.7" fill="#333"/>
<text x="29.0" y="19.65" textLength="62.4" lengthAdjust="spacingAndGlyphs">1.511e-3</text>
<text x="29.0" y="35.87" textLength="68.9" lengthAdjust="spacingAndGlyphs">-2.641e-1</text>
<text x="29.0" y="52.09" textLength="68.9" lengthAdjust="spacingAndGlyphs">-5.298e-1</text>
<text x="29.0" y="68.31" textLength="68.9" lengthAdjust="spacingAndGlyphs">-7.954e-1</text>
<text x="29.0" y="84.53" textLength="74.6" lengthAdjust="spacingAndGlyphs">-1.061e+0</text>
<text x="29.0" y="100.75" textLength="74.6" lengthAdjust="spacingAndGlyphs">-1.327e+0</text>
<text x="29.0" y="116.97" textLength="74.6" lengthAdjust="spacingAndGlyphs">-1.592e+0</text>
<text x="29.0" y="133.19" textLength="74.6" lengthAdjust="spacingAndGlyphs">-1.858e+0</text>
<text x="29.0" y="149.41" textLength="74.6" lengthAdjust="spacingAndGlyphs">-2.124e+0</text>
<text x="29.0" y="165.63" textLength="74.6" lengthAdjust="spacingAndGlyphs">-2.389e+0</text>
</g>
<g transform="translate(137.1,284.7) scale(0.9962,0.9675)">
<g>
<rect x="-2.0" y="-2.0" width="185.9" height="185.6" fill="#110D8A"/>
<path d="M-2.0,-2.0 L169.6,-2.0 L169.6,0.0 L170.4,2.0 L171.2,4.0 L172.0,6.0 L172.9,8.0 L173.8,10.0 L174.7,12.0 L175.6,14.0 L176.6,16.0 L177.6,18.0 L178.7,20.0 L179.8,22.0 L180.9,24.0 L182.0,26.0 L183.2,28.0 L183.9,30.0 L183.9,32.0 L183.9,34.0 L183.9,36.0 L183.9,38.0 L183.9,40.0 L183.9,42.0 L183.9,44.0 L183.9,46.0 L183.9,48.0 L183.9,50.0 L183.9,52.0 L183.9,54.0 L183.9,56.0 L183.9,58.0 L183.9,60.0 L183.9,62.0 L183.9,64.0 L183.9,66.0 L183.9,68.0 L183.9,70.0 L183.9,72.0 L183.9,74.0 L183.9,76.0 L183.9,78.0 L183.9,80.0 L183.9,82.0 L183.9,84.0 L183.9,86.0 L183.9,88.0 L183.9,90.0 L183.9,92.0 L183.9,94.0 L183.9,96.0 L183.9,98.0 L183.9,100.0 L183.9,102.0 L183.9,104.0 L183.9,106.0 L183.9,108.0 L183.9,110.0 L183.9,112.0 L183.9,114.0 L183.9,116.0 L183.9,118.0 L183.9,120.0 L183.9,122.0 L183.9,124.0 L183.9,126.0 L183.9,128.0 L183.9,130.0 L183.9,132.0 L183.9,134.0 L183.9,136.0 L183.9,138.0 L183.9,140.0 L183.9,142.0 L183.9,144.0 L183.9,146.0 L183.9,148.0 L183.9,150.0 L183.9,152.0 L183.9,154.0 L183.9,156.0 L183.9,158.0 L183.9,160.0 L183.9,162.0 L183.9,164.0 L183.9,166.0 L183.9,168.0 L183.9,170.0 L183.9,172.0 L183.9,174.0 L183.9,176.0 L183.9,178.0 L183.9,180.0 L183.9,181.6 L183.9,183.6 L-2.0,183.6 Z" fill="#0726E6"/>
<path d="M-2.0,-2.0 L155.3,-2.0 L155.3,0.0 L155.9,2.0 L156.5,4.0 L157.2,6.0 L157.9,8.0 L158.6,10.0 L159.3,12.0 L160.1,14.0 L160.8,16.0 L161.6,18.0 L162.4,20.0 L163.3,22.0 L164.1,24.0 L165.0,26.0 L165.9,28.0 L166.9,30.0 L167.8,32.0 L168.8,34.0 L169.8,36.0 L170.9,38.0 L171.9,40.0 L173.0,42.0 L174.1,44.0 L175.3,46.0 L176.4,48.0 L177.6,50.0 L178.9,52.0 L180.1,54.0 L181.4,56.0 L182.8,58.0 L183.9,60.0 L183.9,62.0 L183.9,64.0 L183.9,66.0 L183.9,68.0 L183.9,70.0 L183.9,72.0 L183.9,74.0 L183.9,76.0 L183.9,78.0 L183.9,80.0 L183.9,82.0 L183.9,84.0 L183.9,86.0 L183.9,88.0 L183.9,90.0 L183.9,92.0 L183.9,94.0 L183.9,96.0 L183.9,98.0 L183.9,100.0 L183.9,102.0 L183.9,104.0 L183.9,106.0 L183.9,108.0 L183.9,110.0 L183.9,112.0 L183.9,114.0 L183.9,116.0 L183.9,118.0 L183.9,120.0 L183.9,122.0 L183.9,124.0 L183.9,126.0 L183.9,128.0 L183.9,130.0 L183.9,132.0 L183.9,134.0 L183.9,136.0 L183.9,138.0 L183.9,140.0 L183.9,142.0 L183.9,144.0 L183.9,146.0 L183.9,148.0 L183.9,150.0 L183.9,152.0 L183.9,154.0 L183.9,156.0 L183.9,158.0 L183.9,160.0 L183.9,162.0 L183.9,164.0 L183.9,166.0 L183.9,168.0 L183.9,170.0 L183.9,172.0 L183.9,174.0 L183.9,176.0 L183.9,178.0 L183.9,180.0 L183.9,181.6 L183.9,183.6 L-2.0,183.6 Z" fill="#0C8CE8"/>
<path d="M-2.0,-2.0 L141.3,-2.0 L141.3,0.0 L141.8,2.0 L142.3,4.0 L142.8,6.0 L143.4,8.0 L144.0,10.0 L144.5,12.0 L145.1,14.0 L145.8,16.0 L146.4,18.0 L147.1,20.0 L147.8,22.0 L148.5,24.0 L149.2,26.0 L149.9,28.0 L150.7,30.0 L151.5,32.0 L152.3,34.0 L153.1,36.0 L153.9,38.0 L154.7,40.0 L155.6,42.0 L156.5,44.0 L157.4,46.0 L158.3,48.0 L159.2,50.0 L160.2,52.0 L161.1,54.0 L162.1,56.0 L163.1,58.0 L164.2,60.0 L165.2,62.0 L166.2,64.0 L167.3,66.0 L168.4,68.0 L169.5,70.0 L170.7,72.0 L171.8,74.0 L173.0,76.0 L174.2,78.0 L175.4,80.0 L176.6,82.0 L177.9,84.0 L179.2,86.0 L180.5,88.0 L181.8,90.0 L183.2,92.0 L183.9,94.0 L183.9,96.0 L183.9,98.0 L183.9,100.0 L183.9,102.0 L183.9,104.0 L183.9,106.0 L183.9,108.0 L183.9,110.0 L183.9,112.0 L183.9,114.0 L183.9,116.0 L183.9,118.0 L183.9,120.0 L183.9,122.0 L183.9,124.0 L183.9,126.0 L183.9,128.0 L183.9,130.0 L183.9,132.0 L183.9,134.0 L183.9,136.0 L183.9,138.0 L183.9,140.0 L183.9,142.0 L183.9,144.0 L183.9,146.0 L183.9,148.0 L183.9,150.0 L183.9,152.0 L183.9,154.0 L183.9,156.0 L183.9,158.0 L183.9,160.0 L183.9,162.0 L183.9,164.0 L183.9,166.0 L183.9,168.0 L183.9,170.0 L183.9,172.0 L183.9,174.0 L183.9,176.0 L183.9,178.0 L183.9,180.0 L183.9,181.6 L183.9,183.6 L-2.0,183.6 Z" fill="#04DEC6"/>
<path d="M-2.0,-2.0 L127.1,-2.0 L127.1,0.0 L127.5,2.0 L127.9,4.0 L128.3,6.0 L128.8,8.0 L129.2,10.0 L129.7,12.0 L130.2,14.0 L130.7,16.0 L131.2,18.0 L131.8,20.0 L132.3,22.0 L132.9,24.0 L133.5,26.0 L134.1,28.0 L134.8,30.0 L135.4,32.0 L136.1,34.0 L136.7,36.0 L137.4,38.0 L138.1,40.0 L138.8,42.0 L139.6,44.0 L140.3,46.0 L141.0,48.0 L141.8,50.0 L142.6,52.0 L143.4,54.0 L144.2,56.0 L145.0,58.0 L145.8,60.0 L146.7,62.0 L147.5,64.0 L148.4,66.0 L149.3,68.0 L150.2,70.0 L151.0,72.0 L152.0,74.0 L152.9,76.0 L153.8,78.0 L154.7,80.0 L155.7,82.0 L156.7,84.0 L157.6,86.0 L158.6,88.0 L159.6,90.0 L160.6,92.0 L161.6,94.0 L162.7,96.0 L163.7,98.0 L164.7,100.0 L165.8,102.0 L166.8,104.0 L167.9,106.0 L169.0,108.0 L170.1,110.0 L171.2,112.0 L172.3,114.0 L173.4,116.0 L174.6,118.0 L175.7,120.0 L176.8,122.0 L178.0,124.0 L179.2,126.0 L180.3,128.0 L181.5,130.0 L182.7,132.0 L183.9,134.0 L183.9,136.0 L183.9,138.0 L183.9,140.0 L183.9,142.0 L183.9,144.0 L183.9,146.0 L183.9,148.0 L183.9,150.0 L183.9,152.0 L183.9,154.0 L183.9,156.0 L183.9,158.0 L183.9,160.0 L183.9,162.0 L183.9,164.0 L183.9,166.0 L183.9,168.0 L183.9,170.0 L183.9,172.0 L183.9,174.0 L183.9,176.0 L183.9,178.0 L183.9,180.0 L183.9,181.6 L183.9,183.6 L-2.0,183.6 Z" fill="#00DC0A"/>
<path d="M-2.0,-2.0 L112.2,-2.0 L112.2,0.0 L112.5,2.0 L112.8,4.0 L113.1,6.0 L113.5,8.0 L113.8,10.0 L114.2,12.0 L114.6,14.0 L115.0,16.0 L115.4,18.0 L115.9,20.0 L116.4,22.0 L116.8,24.0 L117.3,26.0 L117.8,28.0 L118.3,30.0 L118.9,32.0 L119.4,34.0 L120.0,36.0 L120.5,38.0 L121.1,40.0 L121.7,42.0 L122.3,44.0 L122.9,46.0 L123.6,48.0 L124.2,50.0 L124.9,52.0 L125.5,54.0 L126.2,56.0 L126.9,58.0 L127.6,60.0 L128.3,62.0 L129.0,64.0 L129.7,66.0 L130.4,68.0 L131.2,70.0 L131.9,72.0 L132.7,74.0 L133.4,76.0 L134.2,78.0 L135.0,80.0 L135.7,82.0 L136.5,84.0 L137.3,86.0 L138.1,88.0 L138.9,90.0 L139.8,92.0 L140.6,94.0 L141.4,96.0 L142.3,98.0 L143.1,100.0 L143.9,102.0 L144.8,104.0 L145.7,106.0 L146.5,108.0 L147.4,110.0 L148.3,112.0 L149.1,114.0 L150.0,116.0 L150.9,118.0 L151.8,120.0 L152.7,122.0 L153.6,124.0 L154.5,126.0 L155.4,128.0 L156.3,130.0 L157.2,132.0 L158.1,134.0 L159.1,136.0 L160.0,138.0 L160.9,140.0 L161.8,142.0 L162.8,144.0 L163.7,146.0 L164.6,148.0 L165.5,150.0 L166.5,152.0 L167.4,154.0 L168.4,156.0 L169.3,158.0 L170.2,160.0 L171.2,162.0 L172.1,164.0 L173.1,166.0 L174.0,168.0 L174.9,170.0 L175.9,172.0 L176.8,174.0 L177.7,176.0 L178.7,178.0 L179.6,180.0 L180.4,181.6 L180.4,183.6 L-2.0,183.6 Z" fill="#AADE0A"/>
<path d="M-2.0,-2.0 L96.0,-2.0 L96.0,0.0 L96.2,2.0 L96.4,4.0 L96.6,6.0 L96.9,8.0 L97.1,10.0 L97.4,12.0 L97.7,14.0 L98.0,16.0 L98.3,18.0 L98.7,20.0 L99.0,22.0 L99.4,24.0 L99.8,26.0 L100.2,28.0 L100.6,30.0 L101.0,32.0 L101.5,34.0 L101.9,36.0 L102.4,38.0 L102.9,40.0 L103.4,42.0 L103.9,44.0 L104.4,46.0 L104.9,48.0 L105.4,50.0 L106.0,52.0 L106.5,54.0 L107.1,56.0 L107.6,58.0 L108.2,60.0 L108.8,62.0 L109.4,64.0 L110.0,66.0 L110.6,68.0 L111.2,70.0 L111.8,72.0 L112.4,74.0 L113.1,76.0 L113.7,78.0 L114.4,80.0 L115.0,82.0 L115.7,84.0 L116.3,86.0 L117.0,88.0 L117.7,90.0 L118.4,92.0 L119.0,94.0 L119.7,96.0 L120.4,98.0 L121.1,100.0 L121.8,102.0 L122.5,104.0 L123.3,106.0 L124.0,108.0 L124.7,110.0 L125.4,112.0 L126.2,114.0 L126.9,116.0 L127.6,118.0 L128.4,120.0 L129.1,122.0 L129.9,124.0 L130.7,126.0 L131.4,128.0 L132.2,130.0 L132.9,132.0 L133.7,134.0 L134.5,136.0 L135.3,138.0 L136.1,140.0 L136.9,142.0 L137.7,144.0 L138.5,146.0 L139.3,148.0 L140.1,150.0 L140.9,152.0 L141.7,154.0 L142.5,156.0 L143.4,158.0 L144.2,160.0 L145.0,162.0 L145.9,164.0 L146.7,166.0 L147.6,168.0 L148.4,170.0 L149.3,172.0 L150.2,174.0 L151.0,176.0 L151.9,178.0 L152.8,180.0 L153.5,181.6 L153.5,183.6 L-2.0,183.6 Z" fill="#FA9308"/>
<path d="M-2.0,-2.0 L77.4,-2.0 L77.4,0.0 L77.5,2.0 L77.6,4.0 L77.7,6.0 L77.9,8.0 L78.0,10.0 L78.2,12.0 L78.4,14.0 L78.6,16.0 L78.8,18.0 L79.1,20.0 L79.3,22.0 L79.6,24.0 L79.9,26.0 L80.2,28.0 L80.5,30.0 L80.8,32.0 L81.1,34.0 L81.5,36.0 L81.8,38.0 L82.2,40.0 L82.6,42.0 L83.0,44.0 L83.4,46.0 L83.8,48.0 L84.2,50.0 L84.6,52.0 L85.0,54.0 L85.5,56.0 L85.9,58.0 L86.4,60.0 L86.9,62.0 L87.3,64.0 L87.8,66.0 L88.3,68.0 L88.8,70.0 L89.3,72.0 L89.8,74.0 L90.3,76.0 L90.8,78.0 L91.3,80.0 L91.8,82.0 L92.4,84.0 L92.9,86.0 L93.4,88.0 L94.0,90.0 L94.5,92.0 L95.1,94.0 L95.7,96.0 L96.2,98.0 L96.8,100.0 L97.4,102.0 L97.9,104.0 L98.5,106.0 L99.1,108.0 L99.7,110.0 L100.3,112.0 L100.9,114.0 L101.5,116.0 L102.1,118.0 L102.7,120.0 L103.3,122.0 L104.0,124.0 L104.6,126.0 L105.2,128.0 L105.9,130.0 L106.5,132.0 L107.2,134.0 L107.8,136.0 L108.5,138.0 L109.2,140.0 L109.9,142.0 L110.6,144.0 L111.3,146.0 L112.0,148.0 L112.7,150.0 L113.5,152.0 L114.2,154.0 L115.0,156.0 L115.7,158.0 L116.5,160.0 L117.3,162.0 L118.1,164.0 L118.9,166.0 L119.7,168.0 L120.5,170.0 L121.4,172.0 L122.3,174.0 L123.1,176.0 L124.0,178.0 L124.9,180.0 L125.7,181.6 L125.7,183.6 L-2.0,183.6 Z" fill="#FF240E"/>
<path d="M-2.0,-2.0 L54.4,-2.0 L54.4,0.0 L54.4,2.0 L54.3,4.0 L54.3,6.0 L54.3,8.0 L54.4,10.0 L54.4,12.0 L54.5,14.0 L54.6,16.0 L54.7,18.0 L54.8,20.0 L54.9,22.0 L55.1,24.0 L55.3,26.0 L55.4,28.0 L55.6,30.0 L55.8,32.0 L56.1,34.0 L56.3,36.0 L56.5,38.0 L56.8,40.0 L57.0,42.0 L57.3,44.0 L57.6,46.0 L57.9,48.0 L58.2,50.0 L58.5,52.0 L58.8,54.0 L59.1,56.0 L59.4,58.0 L59.7,60.0 L60.1,62.0 L60.4,64.0 L60.7,66.0 L61.1,68.0 L61.4,70.0 L61.8,72.0 L62.1,74.0 L62.5,76.0 L62.9,78.0 L63.2,80.0 L63.6,82.0 L64.0,84.0 L64.3,86.0 L64.7,88.0 L65.1,90.0 L65.5,92.0 L65.8,94.0 L66.2,96.0 L66.6,98.0 L67.0,100.0 L67.4,102.0 L67.8,104.0 L68.2,106.0 L68.6,108.0 L69.0,110.0 L69.4,112.0 L69.8,114.0 L70.3,116.0 L70.7,118.0 L71.1,120.0 L71.5,122.0 L72.0,124.0 L72.4,126.0 L72.9,128.0 L73.4,130.0 L73.8,132.0 L74.3,134.0 L74.8,136.0 L75.3,138.0 L75.8,140.0 L76.4,142.0 L76.9,144.0 L77.5,146.0 L78.1,148.0 L78.6,150.0 L79.3,152.0 L79.9,154.0 L80.5,156.0 L81.2,158.0 L81.9,160.0 L82.6,162.0 L83.3,164.0 L84.1,166.0 L84.9,168.0 L85.7,170.0 L86.5,172.0 L87.4,174.0 L88.3,176.0 L89.2,178.0 L90.2,180.0 L91.0,181.6 L91.0,183.6 L-2.0,183.6 Z" fill="#8E090C"/>
<path fill="#fff" fill-rule="evenodd" d="M-3.0,-3.0 H184.9 V184.6 H-3.0 Z M0,0 V181.6 H181.9 V0 Z"/>
</g>
</g>
<g class="lg" transform="translate(329.9,286.2) scale(1.004,0.9675)">
<rect x="0" y="0" width="113.6" height="180.0" fill="#fff" stroke="#222" stroke-width="1.35" rx="1.2"/>
<rect x="11.3" y="17.20" width="11.0" height="16.52" fill="#8B0000"/>
<rect x="11.3" y="33.42" width="11.0" height="16.52" fill="#FF1A00"/>
<rect x="11.3" y="49.64" width="11.0" height="16.52" fill="#FF9900"/>
<rect x="11.3" y="65.86" width="11.0" height="16.52" fill="#CCFF00"/>
<rect x="11.3" y="82.08" width="11.0" height="16.52" fill="#00FF00"/>
<rect x="11.3" y="98.30" width="11.0" height="16.52" fill="#00FFCC"/>
<rect x="11.3" y="114.52" width="11.0" height="16.52" fill="#0099FF"/>
<rect x="11.3" y="130.74" width="11.0" height="16.52" fill="#0019FF"/>
<rect x="11.3" y="146.96" width="11.0" height="16.52" fill="#00007F"/>
<rect x="22.30" y="15.60" width="1.5" height="1.7" fill="#333"/>
<rect x="22.30" y="31.82" width="1.5" height="1.7" fill="#333"/>
<rect x="22.30" y="48.04" width="1.5" height="1.7" fill="#333"/>
<rect x="22.30" y="64.26" width="1.5" height="1.7" fill="#333"/>
<rect x="22.30" y="80.48" width="1.5" height="1.7" fill="#333"/>
<rect x="22.30" y="96.70" width="1.5" height="1.7" fill="#333"/>
<rect x="22.30" y="112.92" width="1.5" height="1.7" fill="#333"/>
<rect x="22.30" y="129.14" width="1.5" height="1.7" fill="#333"/>
<rect x="22.30" y="145.36" width="1.5" height="1.7" fill="#333"/>
<rect x="22.30" y="161.58" width="1.5" height="1.7" fill="#333"/>
<text x="29.0" y="19.65" textLength="62.4" lengthAdjust="spacingAndGlyphs">7.967e-4</text>
<text x="29.0" y="35.87" textLength="68.9" lengthAdjust="spacingAndGlyphs">-2.646e-1</text>
<text x="29.0" y="52.09" textLength="68.9" lengthAdjust="spacingAndGlyphs">-5.299e-1</text>
<text x="29.0" y="68.31" textLength="68.9" lengthAdjust="spacingAndGlyphs">-7.953e-1</text>
<text x="29.0" y="84.53" textLength="74.6" lengthAdjust="spacingAndGlyphs">-1.061e+0</text>
<text x="29.0" y="100.75" textLength="74.6" lengthAdjust="spacingAndGlyphs">-1.326e+0</text>
<text x="29.0" y="116.97" textLength="74.6" lengthAdjust="spacingAndGlyphs">-1.591e+0</text>
<text x="29.0" y="133.19" textLength="74.6" lengthAdjust="spacingAndGlyphs">-1.857e+0</text>
<text x="29.0" y="149.41" textLength="74.6" lengthAdjust="spacingAndGlyphs">-2.122e+0</text>
<text x="29.0" y="165.63" textLength="74.6" lengthAdjust="spacingAndGlyphs">-2.388e+0</text>
</g>
</svg>
</body></html>
